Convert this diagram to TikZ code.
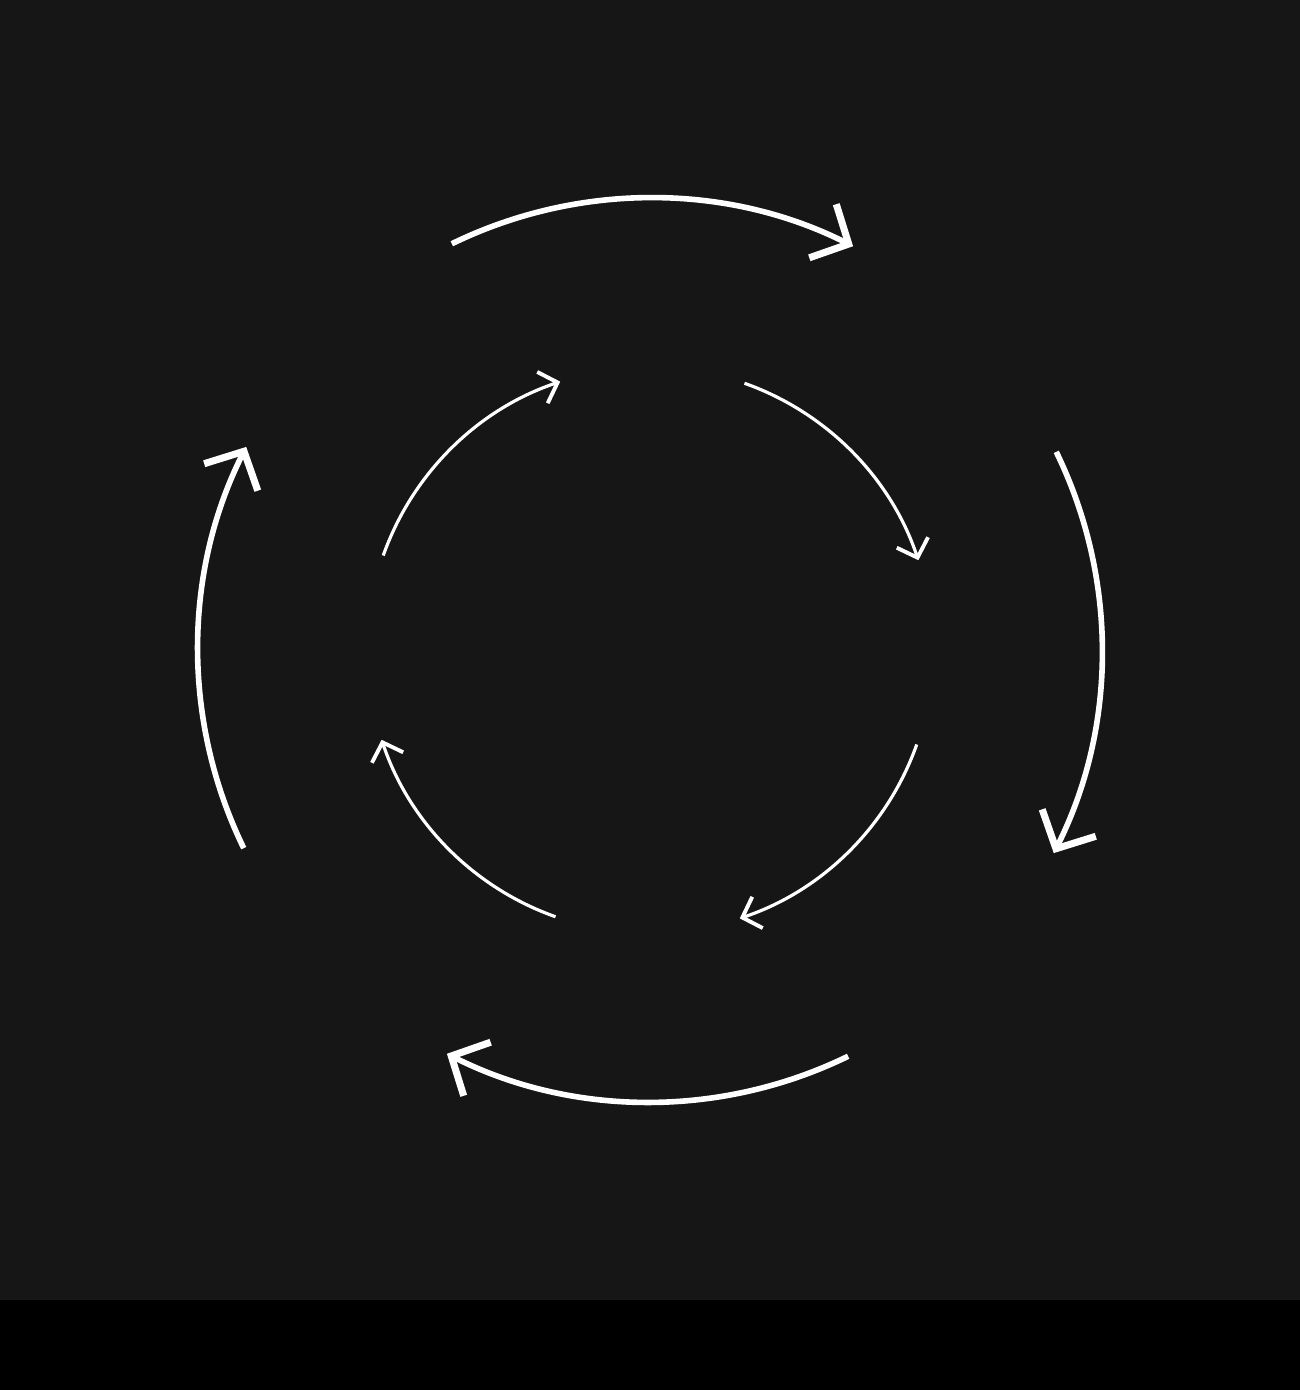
\documentclass[tikz,border=0pt]{standalone}
\usetikzlibrary{arrows.meta}
\definecolor{bgdark}{HTML}{161616}
\begin{document}
\begin{tikzpicture}[
  outerarc/.style={white, line width=1.6pt, line cap=butt,
    -{Straight Barb[length=0.29cm, width=0.6cm, line width=2pt]}},
  innerarc/.style={white, line width=0.9pt, line cap=butt,
    -{Straight Barb[length=0.16cm, width=0.33cm, line width=1.1pt]}}
]
\useasboundingbox (-6.5,-7.4) rectangle (6.5,6.5);
\fill[bgdark] (-6.5,-6.5) rectangle (6.5,6.5);
\fill[black] (-6.5,-7.4) rectangle (6.5,-6.5);
% outer arcs (clockwise)
\foreach \c in {90,0,-90,180}{
  \draw[outerarc] (\c+26:4.52) arc[start angle=\c+26, end angle=\c-26.7, radius=4.52];
}
% inner arcs (clockwise)
\foreach \c in {135,45,-45,-135}{
  \draw[innerarc] (\c+25.5:2.83) arc[start angle=\c+25.5, end angle=\c-26.5, radius=2.83];
}
\end{tikzpicture}
\end{document}
